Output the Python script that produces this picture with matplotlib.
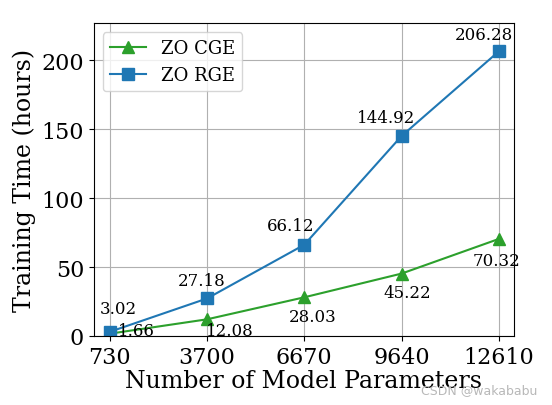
import matplotlib
matplotlib.use("Agg")
import matplotlib.pyplot as plt

params = [730, 3700, 6670, 9640, 12610]
cge = [1.66, 12.08, 28.03, 45.22, 70.32]
rge = [3.02, 27.18, 66.12, 144.92, 206.28]

# label offsets in pixels (dx, dy)
cge_off = [(27, 3), (23, -11), (8, -19), (6, -19), (-2, -22)]
rge_off = [(9, 23), (-5, 18), (-14, 19), (-15, 19), (-15, 17)]

plt.rcParams['font.family'] = 'DejaVu Serif'

fig = plt.figure(figsize=(5.52, 4.06), dpi=100)
ax = fig.add_axes([0.170, 0.170, 0.761, 0.771])

ax.plot(params, cge, marker='^', color='#2ca02c', markersize=9, lw=1.5, label='ZO CGE')
ax.plot(params, rge, marker='s', color='#1f77b4', markersize=9, lw=1.5, label='ZO RGE')

for x, y, (dx, dy) in zip(params, cge, cge_off):
    ax.annotate(f"{y:.2f}", (x, y), xytext=(dx, dy), textcoords='offset pixels',
                ha='center', va='center', fontsize=12)
for x, y, (dx, dy) in zip(params, rge, rge_off):
    ax.annotate(f"{y:.2f}", (x, y), xytext=(dx, dy), textcoords='offset pixels',
                ha='center', va='center', fontsize=12)

span = params[-1] - params[0]
ax.set_xlim(params[0] - 0.041 * span, params[-1] + 0.039 * span)
ax.set_ylim(0, max(rge) * 1.1)
ax.set_xticks(params)
ax.set_xticklabels([str(p) for p in params])
ax.set_yticks([0, 50, 100, 150, 200])
ax.tick_params(labelsize=16)
ax.grid(True)
ax.set_xlabel('Number of Model Parameters', fontsize=17, labelpad=1)
ax.set_ylabel('Training Time (hours)', fontsize=17)
ax.legend(loc='upper left', fontsize=13)

fig.text(0.973, 0.022, 'CSDN @wakababu', ha='right', va='bottom', fontsize=9,
         color='#b8b8b8', family='DejaVu Sans')

fig.savefig('out.png', dpi=100)
